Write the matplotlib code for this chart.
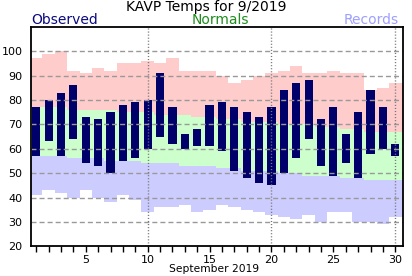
import numpy as np
import matplotlib
matplotlib.use("Agg")
import matplotlib.pyplot as plt
from matplotlib.ticker import MultipleLocator, FixedLocator

plt.rcParams['font.family'] = ['DejaVu Sans']
plt.rcParams['lines.scale_dashes'] = False

days = np.arange(1, 31)
obs_high = [77, 80, 83, 86, 73, 72, 75, 78, 79, 80, 91, 77, 66, 68, 78,
            79, 77, 75, 73, 77, 84, 87, 88, 72, 77, 66, 75, 84, 77, 62]
obs_low = [57, 63, 57, 64, 54, 53, 50, 55, 56, 60, 65, 62, 60, 61, 61,
           59, 51, 48, 46, 45, 50, 56, 64, 53, 49, 54, 48, 58, 60, 57]
norm_high = [77, 77, 77, 76, 76, 76, 76, 75, 75, 75, 74, 74, 74, 73, 73,
             72, 72, 71, 71, 71, 70, 70, 70, 69, 69, 68, 68, 67, 67, 67]
norm_low = [57, 57, 57, 56, 56, 56, 55, 55, 55, 54, 54, 54, 53, 53, 53,
            52, 52, 51, 51, 51, 50, 50, 49, 49, 49, 48, 48, 47, 47, 47]
rec_high = [97, 99, 100, 92, 91, 93, 92, 95, 95, 96, 95, 97, 92, 92, 92,
            90, 87, 88, 90, 91, 92, 94, 91, 91, 92, 91, 91, 84, 85, 87]
rec_low = [41, 43, 42, 40, 43, 40, 38, 41, 39, 34, 36, 36, 37, 34, 35,
           37, 36, 35, 34, 33, 32, 31, 33, 30, 34, 34, 30, 30, 29, 32]
x_major = [5, 10, 15, 20, 25, 30]
y_ticks = [20, 30, 40, 50, 60, 70, 80, 90, 100]

obs_high = np.array(obs_high); obs_low = np.array(obs_low)
norm_high = np.array(norm_high); norm_low = np.array(norm_low)
rec_high = np.array(rec_high); rec_low = np.array(rec_low)

W, H = 412, 276
fig = plt.figure(figsize=(W / 100, H / 100), dpi=100)
ax = fig.add_axes([30.7 / W, 1 - 246.3 / H, (402.7 - 30.7) / W, (246.3 - 26.7) / H])

edges = np.append(days - 0.5, days[-1] + 1.0)
ax.stairs(rec_high, edges, baseline=norm_high, fill=True, color='#ffcccc', lw=0, zorder=1)
ax.stairs(norm_high, edges, baseline=norm_low, fill=True, color='#ccffcc', lw=0, zorder=1)
ax.stairs(norm_low, edges, baseline=rec_low, fill=True, color='#ccccff', lw=0, zorder=1)

ax.bar(days, obs_high - obs_low, bottom=obs_low, width=0.66, color='#00006b',
       linewidth=0, zorder=2)

ax.set_xlim(0.55, 30.6)
ax.set_ylim(20, 110)

for yv in y_ticks[1:]:
    ax.axhline(yv, color='#999999', lw=1.0, linestyle=(0, (3.6, 2.2)), zorder=3)
for xv in [10, 20, 30]:
    ax.axvline(xv, color='#777777', lw=1.0, linestyle=(0, (0.8, 1.4)), zorder=3)

ax.xaxis.set_major_locator(FixedLocator(x_major))
ax.xaxis.set_minor_locator(MultipleLocator(1))
ax.yaxis.set_major_locator(FixedLocator(y_ticks))
ax.tick_params(axis='x', which='both', direction='out', length=4, width=1,
               labelsize=8, pad=2.5, color='black')
ax.tick_params(axis='y', which='both', length=0, labelsize=8, pad=6)
for s in ax.spines.values():
    s.set_linewidth(1.3)
    s.set_color('black')
    s.set_zorder(4)

fig.text(0.5, 1 - 10.7 / H, 'KAVP Temps for 9/2019', ha='center', va='baseline',
         fontsize=10, color='black')
fig.text(31 / W, 1 - 24 / H, 'Observed', ha='left', va='baseline',
         fontsize=10, color='#0a0a80')
fig.text(220 / W, 1 - 24 / H, 'Normals', ha='center', va='baseline',
         fontsize=10, color='#1e8c1e')
fig.text(398.7 / W, 1 - 24 / H, 'Records', ha='right', va='baseline',
         fontsize=10, color='#9f9fff')
fig.text(214.3 / W, 1 - 272 / H, 'September 2019', ha='center', va='baseline',
         fontsize=7.7, color='black')

fig.savefig('out.png', dpi=100)
